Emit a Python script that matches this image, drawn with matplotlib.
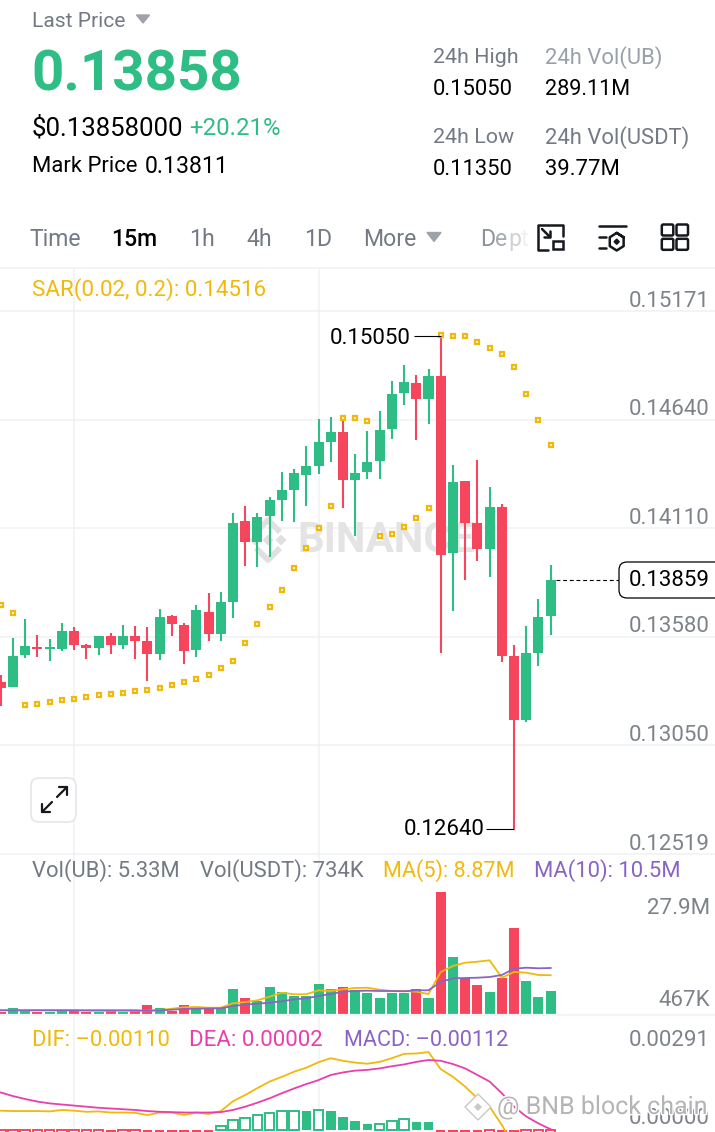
import numpy as np
import matplotlib
matplotlib.use("Agg")
import matplotlib.pyplot as plt
from matplotlib.patches import FancyBboxPatch, Polygon, Rectangle
import matplotlib.patheffects as pe

plt.rcParams['font.family'] = ['Roboto', 'DejaVu Sans']

# prices in units of 0.00001
opens = [13360, 13333, 13491, 13531, 13520, 13518, 13609, 13539, 13526, 13583, 13541, 13585, 13557, 13494, 13681, 13639,
         13514, 13702, 13593, 13749, 14144, 14044, 14171, 14248, 14295, 14371, 14415, 14533, 14578, 14345, 14383, 14438,
         14593, 14772, 14818, 14741, 14853, 13987, 14339, 14137, 14008, 14212, 13487, 13173, 13502, 13681]
highs = [13393, 13572, 13665, 13588, 13567, 13645, 13626, 13544, 13582, 13597, 13637, 13632, 13626, 13714, 13684, 13645,
         13733, 13792, 13797, 14183, 14220, 14183, 14261, 14383, 14399, 14512, 14643, 14652, 14639, 14474, 14585, 14681,
         14831, 14907, 14858, 14888, 15050, 14417, 14341, 14442, 14313, 14228, 13538, 13632, 13763, 13930]
lows = [13243, 13333, 13477, 13482, 13463, 13510, 13515, 13472, 13491, 13497, 13520, 13472, 13362, 13468, 13585, 13448,
        13481, 13560, 13560, 13673, 13924, 13919, 13969, 14147, 14139, 14218, 14376, 14432, 14207, 14072, 14352, 14352,
        14544, 14713, 14541, 14620, 13499, 13707, 13857, 13951, 13873, 13458, 12640, 13163, 13437, 13587]
closes = [13331, 13486, 13535, 13520, 13530, 13609, 13538, 13526, 13582, 13541, 13583, 13560, 13494, 13678, 13641, 13512,
          13709, 13595, 13748, 14137, 14044, 14166, 14246, 14297, 14378, 14414, 14531, 14580, 14345, 14381, 14435, 14591,
          14766, 14824, 14741, 14853, 13979, 14336, 14134, 14008, 14212, 13487, 13173, 13500, 13678, 13859]
sar = [13735, 13696, 13245, 13253, 13261, 13269, 13277, 13285, 13294, 13300, 13306, 13315, 13321, 13329, 13344, 13359,
       13373, 13394, 13427, 13463, 13549, 13643, 13725, 13810, 13914, 14012, 14111, 14218, 14650, 14650, 14635, 14072,
       14083, 14114, 14161, 14207, 15052, 15050, 15050, 15020, 14989, 14959, 14899, 14766, 14637, 14518]

price_ticks = [0.15171, 0.14640, 0.14110, 0.13580, 0.13050, 0.12519]
price_labels = ["0.15171", "0.14640", "0.14110", "0.13580", "0.13050", "0.12519"]
last_price = 0.13859

# volume in millions
volume = [0.53, 1.30, 0.75, 0.46, 0.46, 0.75, 0.62, 0.46, 0.46, 0.75, 0.46, 0.75, 1.99, 1.30, 0.75, 1.99, 1.30, 1.30,
          1.30, 5.79, 3.73, 3.04, 6.17, 5.03, 4.12, 4.12, 6.86, 5.72, 6.24, 5.49, 4.73, 3.73, 4.73, 4.73, 5.65, 3.73,
          27.9, 12.97, 8.30, 6.63, 5.10, 8.30, 19.6, 7.48, 3.82, 5.33]
ma5 = [0.85, 0.85, 0.85, 0.85, 0.85, 0.85, 0.85, 0.75, 0.75, 0.75, 0.75, 0.75, 0.75, 0.91, 1.21, 1.53, 1.60, 1.44, 1.44,
       2.45, 2.74, 3.13, 3.96, 4.87, 4.51, 4.51, 5.42, 5.26, 5.65, 5.95, 6.01, 5.56, 5.26, 5.26, 5.10, 4.57, 9.61, 10.98,
       11.73, 11.96, 12.28, 8.30, 9.61, 9.45, 8.92, 8.87]
ma10 = [0.85, 0.85, 0.85, 0.85, 0.85, 0.85, 0.85, 0.85, 0.85, 0.85, 0.85, 0.85, 0.75, 0.85, 0.98, 1.14, 1.21, 1.26, 1.30,
        1.83, 2.13, 2.36, 2.58, 2.90, 3.36, 3.59, 4.12, 4.57, 5.10, 5.26, 5.33, 5.26, 5.26, 5.19, 5.42, 5.42, 7.32, 8.16,
        8.23, 8.30, 8.46, 8.92, 10.36, 10.59, 10.45, 10.52]

# macd panel in units of 0.00001
dif = [53, 52, 52, 52, 51, 55, 53, 50, 51, 48, 48, 47, 41, 48, 48, 41, 48, 44, 52, 79, 96, 115, 133, 146, 160, 171, 186,
       197, 190, 185, 182, 187, 197, 209, 210, 214, 167, 146, 119, 87, 64, 14, -45, -75, -95, -110]
dea = [103, 93, 85, 78, 73, 70, 67, 64, 61, 59, 57, 55, 52, 50, 49, 48, 48, 48, 49, 55, 64, 75, 87, 101, 114, 126, 137,
       151, 158, 163, 165, 169, 175, 180, 187, 192, 190, 181, 169, 151, 133, 101, 64, 37, 18, 2]
macd = [-50, -41, -33, -26, -22, -15, -14, -13, -10, -11, -9, -8, -11, -12, -13, -14, -15, -16, 10, 27, 33, 41, 48, 51, 53,
        52, 56, 52, 37, 25, 17, 17.5, 25, 31, 23, 23, -23, -35, -50, -64, -60, -87, -125, -120, -115, -112]

GREEN = "#2EBD85"
RED = "#F6465D"
YELLOW = "#F0B90B"
PINK = "#E93FAE"
PURPLE = "#8A63C6"
GRID = "#F0F1F2"
GRAY = "#737A85"
LIGHT = "#9AA0A9"
W, H = 715, 1132


def fs(px):
    return px * 0.72


def panel(top, bottom):
    a = fig.add_axes([0, 1 - bottom / H, 1, (bottom - top) / H])
    a.set_xlim(-0.8 / 12.22, (W - 0.8) / 12.22)
    a.axis("off")
    return a


def axis_label(a, value, text, dy, va):
    a.annotate(text, xy=(1, value), xycoords=("axes fraction", "data"), xytext=(-3.6, dy),
               textcoords="offset points", ha="right", va=va, fontsize=fs(22.3), color="#7E838B",
               annotation_clip=False, zorder=6)


fig = plt.figure(figsize=(W / 100, H / 100), dpi=100, facecolor="white")

# overlay in pixel coordinates for the app chrome
ov = fig.add_axes([0, 0, 1, 1], zorder=10)
ov.set_xlim(0, W)
ov.set_ylim(H, 0)
ov.axis("off")

ax = panel(268, 854)
ax.set_ylim(0.12519, 0.15381)
vol = panel(854, 1014)
vol.set_ylim(0, 27.9 * 160 / 122)
mac = panel(1014, 1132)
mac.set_ylim(-5.49e-5, 318.4e-5)

x = np.arange(len(opens))
o = np.array(opens) / 1e5
h = np.array(highs) / 1e5
l = np.array(lows) / 1e5
c = np.array(closes) / 1e5
up = c >= o
colors = [GREEN if u else RED for u in up]

# grid
for t in price_ticks[:-1]:
    ax.axhline(t, color=GRID, lw=1.1, zorder=0)
for a in (ax, vol, mac):
    a.axvline(6, color=GRID, lw=1.1, zorder=0)
    a.axvline(26, color=GRID, lw=1.1, zorder=0)
for yy in (268, 854):
    ov.plot([0, W], [yy, yy], color=GRID, lw=1.1)
ov.plot([0, W], [1015, 1015], color="#F3F4F5", lw=1.6)

# watermark under the candles
ax.text(297, 541, "BINANCE", transform=ov.transData, fontsize=fs(42), fontweight="bold", color="#E4E4E4",
        va="center", ha="left", zorder=1)
lx, ly = 268, 540
for dx, dy in [(0, 0), (-13, 0), (13, 0)]:
    ax.add_patch(Polygon([(lx + dx - 4.5, ly + dy), (lx + dx, ly + dy - 4.5), (lx + dx + 4.5, ly + dy),
                          (lx + dx, ly + dy + 4.5)], closed=True, color="#E0E0E0", transform=ov.transData, zorder=1))
for s in (-1, 1):
    ax.plot([lx - 12, lx, lx + 12], [ly + s * 8, ly + s * 20, ly + s * 8], color="#E0E0E0", lw=4.2,
            transform=ov.transData, zorder=1, solid_capstyle="butt")

# candles
ax.vlines(x, l, h, colors=colors, lw=1.5, zorder=3)
ax.bar(x, np.abs(c - o), bottom=np.minimum(o, c), width=0.82, color=colors, zorder=4)

# SAR
ax.plot(x, np.array(sar) / 1e5, ls="none", marker="s", ms=3.5, mew=1.6, mec=YELLOW, mfc="white", zorder=5)

# extreme labels
ax.annotate("0.15050", xy=(36, 0.15050), xytext=(-21.4, -2), textcoords="offset points", ha="right", va="center",
            fontsize=fs(22.3), color="black", zorder=6)
ax.hlines(0.15050, 33.8, 36, colors="black", lw=0.8, zorder=6)
ax.annotate("0.12640", xy=(42, 0.12640), xytext=(-21.4, -0.5), textcoords="offset points", ha="right", va="center",
            fontsize=fs(22.3), color="black", zorder=6)
ax.hlines(0.12640, 39.7, 42, colors="black", lw=0.8, zorder=6)

# last price
ax.hlines(last_price, 45.45, 50.6, colors="black", lw=0.8, linestyles=(0, (3.5, 2.5)), zorder=4)
ov.add_patch(FancyBboxPatch((626, 569), 96, 22, boxstyle="round,pad=7,rounding_size=8", fc="white", ec="black", lw=0.9))
ov.text(710, 581, "0.13859", ha="right", va="center", fontsize=fs(22.3), color="black")

for t, lab in zip(price_ticks, price_labels):
    axis_label(ax, t, lab, -0.5, "bottom")

# volume
vol.bar(x, volume, width=0.82, color=colors, zorder=3)
vol.plot(x, ma5, color=YELLOW, lw=1.3, zorder=4)
vol.plot(x, ma10, color=PURPLE, lw=1.3, zorder=5)
axis_label(vol, 27.9, "27.9M", -4, "top")
axis_label(vol, 0.467, "467K", 0.4, "bottom")

# macd
m = np.array(macd) / 1e5
for i, v in enumerate(m):
    col = GREEN if v > 0 else RED
    hollow = i == 0 or v > m[i - 1]
    mac.bar(i, v, width=0.78, color="white" if hollow else col, edgecolor=col, lw=1.4 if hollow else 0, zorder=3)
mac.plot(x, np.array(dif) / 1e5, color=YELLOW, lw=1.3, zorder=4)
mac.plot(x, np.array(dea) / 1e5, color=PINK, lw=1.3, zorder=5)
axis_label(mac, 291e-5, "0.00291", -4, "top")
axis_label(mac, 0.0, "0.00000", 0.4, "bottom")


def txt(px, py, s, size, color="black", **kw):
    ov.text(px, py + 1.5, s, fontsize=fs(size), color=color, va="center", ha=kw.pop("ha", "left"), **kw)


def tri(px, py, w=13, hh=8, color="#9EA3AB"):
    ov.add_patch(Polygon([(px - w / 2, py - hh / 2), (px + w / 2, py - hh / 2), (px, py + hh / 2)], closed=True, color=color))


# header
txt(32, 20, "Last Price", 21, GRAY)
tri(143, 19)
txt(31, 74, "0.13858", 56.5, GREEN, fontweight="bold")
txt(32, 127, "$0.13858000", 25.8, "black")
txt(189, 127, "+20.21%", 24, GREEN)
txt(32, 165, "Mark Price", 22, "black")
txt(145, 165, "0.13811", 23, "black")
txt(433, 56, "24h High", 21.5, GRAY)
txt(433, 88, "0.15050", 22, "black")
txt(545, 56, "24h Vol(UB)", 22, LIGHT)
txt(545, 88, "289.11M", 21.7, "black")
txt(433, 136, "24h Low", 21.5, GRAY)
txt(433, 168, "0.11350", 22, "black")
txt(545, 136, "24h Vol(USDT)", 22, GRAY)
txt(545, 168, "39.77M", 22, "black")

# tabs
txt(30, 238, "Time", 23, GRAY)
txt(111, 238, "15m", 23, "black", fontweight="medium")
txt(189, 238, "1h", 23, GRAY)
txt(246, 238, "4h", 23, GRAY)
txt(304, 238, "1D", 23, GRAY)
txt(363, 238, "More", 23, GRAY)
tri(434, 237, 14, 9)
txt(480, 238, "D", 23, "#8E939B")
txt(495, 238, "e", 23, "#A7ABB1")
txt(508, 238, "p", 23, "#D0D2D5")
txt(521, 238, "t", 23, "#F0F0F1")

# icons
ic = dict(color="#15181C", lw=1.8, solid_capstyle="round", solid_joinstyle="round")
ov.plot([548, 538, 538, 563, 563], [249.5, 249.5, 224.5, 224.5, 236], **ic)
ov.add_patch(Rectangle((552.5, 240.5), 10, 8.5, fc="none", ec="#15181C", lw=1.8))
ov.plot([542, 550], [229, 237], **ic)
ov.plot([544, 550, 550], [237, 237, 231], **ic)
ov.plot([598.5, 625.5], [225.5, 225.5], **ic)
ov.plot([598.5, 605.5], [236.5, 236.5], **ic)
ov.plot([598.5, 605.5], [247.5, 247.5], **ic)
hx, hy = 616.7, 241.7
ang = np.deg2rad(np.arange(-90, 360, 60))
ov.plot(hx + 8 * np.cos(ang), hy + 8.8 * np.sin(ang), **ic)
ov.add_patch(Polygon([(hx - 2.6, hy), (hx, hy - 2.6), (hx + 2.6, hy), (hx, hy + 2.6)], closed=True, color="#15181C"))
for rx, ry in [(661.8, 224.5), (676.5, 224.5), (661.8, 238.8), (676.5, 238.8)]:
    ov.add_patch(FancyBboxPatch((rx + 1.5, ry + 1.5), 8.5, 8, boxstyle="round,pad=1.5,rounding_size=1.5", fc="none",
                                ec="#15181C", lw=1.8))

# indicator legends
txt(32, 288, "SAR(0.02, 0.2): 0.14516", 22.4, YELLOW)
txt(32, 869, "Vol(UB): 5.33M", 22, GRAY)
txt(200, 869, "Vol(USDT): 734K", 22, GRAY)
txt(383, 869, "MA(5): 8.87M", 21.6, YELLOW)
txt(534, 869, "MA(10): 10.5M", 22, PURPLE)
txt(32, 1039, "DIF: \u20130.00110", 22, YELLOW)
txt(189, 1039, "DEA: 0.00002", 22.3, PINK)
txt(344, 1039, "MACD: \u20130.00112", 21.6, PURPLE)

# expand button
ov.add_patch(FancyBboxPatch((39, 786), 29, 28, boxstyle="round,pad=8,rounding_size=8", fc="white", ec="#E6E8EA", lw=1.3))
ic2 = dict(color="#15181C", lw=1.6, solid_capstyle="round", solid_joinstyle="round")
ov.plot([42, 52], [812, 802], **ic2)
ov.plot([57, 67], [797, 787], **ic2)
ov.plot([42, 42, 50], [804, 812, 812], **ic2)
ov.plot([59, 67, 67], [787, 787, 795], **ic2)

# repost watermark
wm = [pe.withStroke(linewidth=2.0, foreground="white")]
ov.text(497, 1107, "@ BNB block chain", fontsize=fs(25), color="#B4B4B4", va="center", ha="left", path_effects=wm)
ov.add_patch(Polygon([(478, 1094), (491, 1107), (478, 1120), (465, 1107)], closed=True, fc="white", ec="#C8C8C8", lw=1.0))
ov.add_patch(Polygon([(478, 1103), (482, 1107), (478, 1111), (474, 1107)], closed=True, fc="#C8C8C8", ec="none"))

fig.savefig("out.png", dpi=100)
